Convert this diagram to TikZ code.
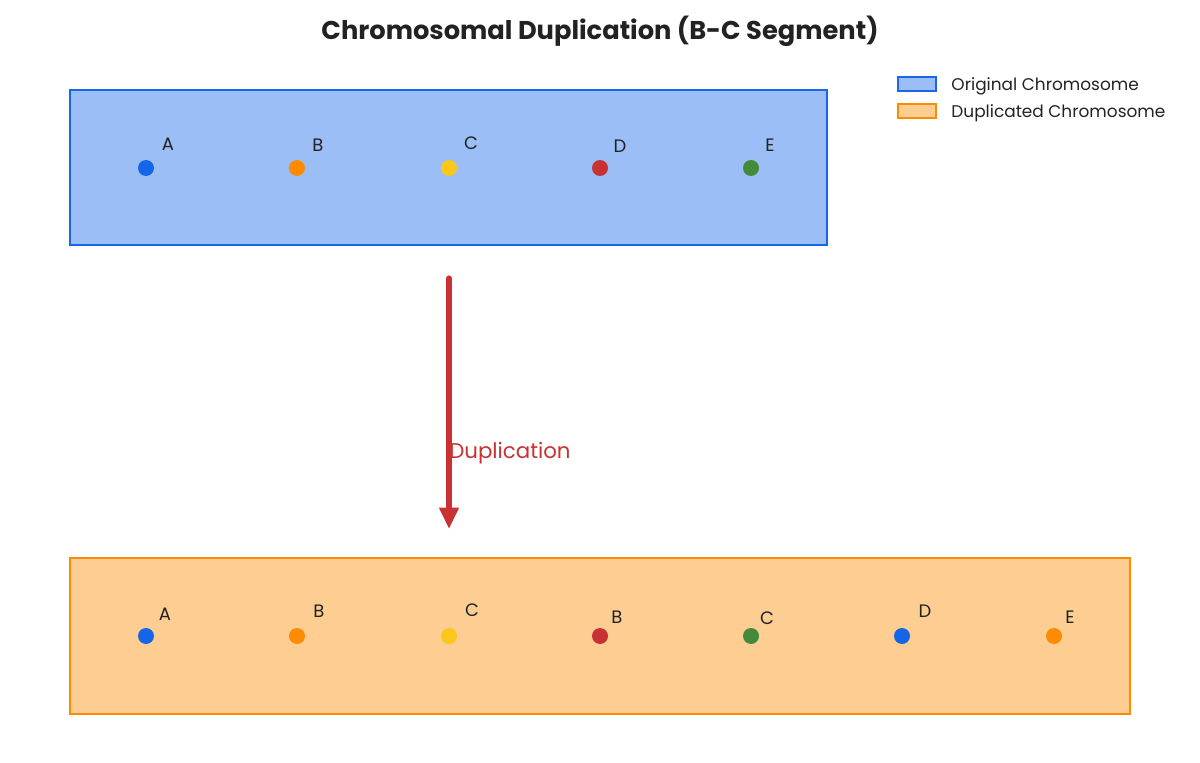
\documentclass[tikz,border=0pt]{standalone}
\usepackage{fontspec}
\setmainfont{Poppins}
\usetikzlibrary{positioning,arrows.meta}
\definecolor{origfill}{HTML}{9ABEF5}
\definecolor{origline}{HTML}{1A66E8}
\definecolor{dupfill}{HTML}{FDCD92}
\definecolor{dupline}{HTML}{FF8C00}
\definecolor{gblue}{HTML}{1565E8}
\definecolor{gorange}{HTML}{FF8C00}
\definecolor{gyellow}{HTML}{F9C81A}
\definecolor{gred}{HTML}{C83232}
\definecolor{ggreen}{HTML}{438A3A}
\definecolor{txt}{HTML}{222222}
\tikzset{
chrom/.style = {draw, line width=1.5pt},
origchrom/.style = {chrom, draw=origline, fill=origfill},
dupchrom/.style = {chrom, draw=dupline, fill=dupfill},
gene/.style = {circle, minimum size=12pt, inner sep=0pt, fill=#1},
genelabel/.style = {font=\fontsize{13.5}{15}\selectfont, text=txt, inner sep=0pt},
legendbox/.style = {draw, line width=1.3pt, minimum width=28pt, minimum height=10pt, inner sep=0pt},
legendtext/.style = {font=\fontsize{12.7}{15}\selectfont, text=txt, anchor=west, inner sep=0pt}
}

\begin{document}
\begin{tikzpicture}[x=0.75pt, y=-0.75pt]
  \useasboundingbox (0,0) rectangle (1200,763);
  % title
  \node [font=\fontsize{19.3}{23}\selectfont\bfseries, text=txt] (title) at (600,31) {Chromosomal Duplication (B-C Segment)};
  % chromosomes
  \draw [origchrom] (70,90) rectangle (827,245);
  \draw [dupchrom] (70,558) rectangle (1130,714);
  % original genes
  \foreach \name/\x/\col/\lx/\ly/\txt in {
      oa/146/gblue/168/144/A,
      ob/297/gorange/318/145/B,
      oc/449/gyellow/471/143/C,
      od/600/gred/620/146/D,
      oe/751/ggreen/770/145/E}
  {
    \node [gene=\col] (\name) at (\x,168) {};
    \node [genelabel] (\name-label) at (\lx,\ly) {\txt};
  }
  % duplicated genes
  \foreach \name/\x/\col/\lx/\ly/\txt in {
      da/146/gblue/165/614/A,
      db/297/gorange/319/611/B,
      dc/449/gyellow/472/610/C,
      dbb/600/gred/617/617/B,
      dcc/751/ggreen/767/618/C,
      dd/902/gblue/925/611/D,
      de/1054/gorange/1070/617/E}
  {
    \node [gene=\col] (\name) at (\x,636) {};
    \node [genelabel] (\name-label) at (\lx,\ly) {\txt};
  }
  % duplication arrow
  \coordinate (dupstart) at (449,278);
  \coordinate (dupend) at (449,529);
  \draw [gred, line width=3.8pt, line cap=round, -{Triangle[length=16pt,width=14pt]}] (dupstart) -- (dupend);
  \node [font=\fontsize{16}{19}\selectfont, text=gred, anchor=west, inner sep=0pt] (duplabel) at (449,453) {Duplication};
  % legend
  \node [legendbox, draw=origline, fill=origfill] (legorig) at (917,84) {};
  \node [legendtext, right=11pt of legorig, yshift=-1.5pt] (legorig-text) {Original Chromosome};
  \node [legendbox, draw=dupline, fill=dupfill] (legdup) at (917,111) {};
  \node [legendtext, right=11pt of legdup, yshift=-1.5pt] (legdup-text) {Duplicated Chromosome};
\end{tikzpicture}
\end{document}
